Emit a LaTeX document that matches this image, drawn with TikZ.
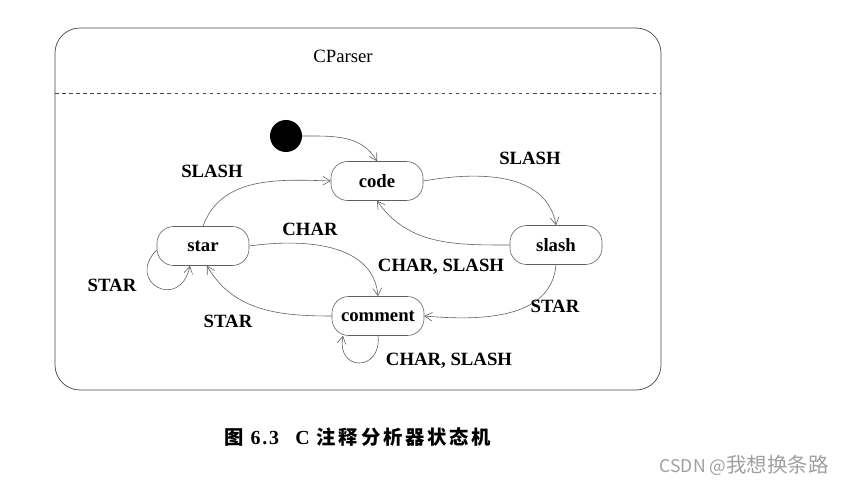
\documentclass[tikz,border=0pt]{standalone}
\usepackage{fontspec}
\setmainfont{Liberation Serif}
\newfontfamily\cjk{Noto Sans CJK SC}
\usepackage{xcolor}
\usetikzlibrary{arrows.meta, positioning, calc}
\definecolor{edgegray}{RGB}{95, 95, 95}
\definecolor{framegray}{RGB}{70, 70, 70}
\definecolor{markgray}{RGB}{160, 160, 160}
\tikzset{
  statebox/.style={
    rectangle, rounded corners=0.5cm, draw=edgegray, line width=0.5pt,
    minimum width=2.76cm, minimum height=1.17cm, inner sep=0pt,
    font=\bfseries\fontsize{16}{19}\selectfont
  },
  initdot/.style={circle, fill=black, minimum size=0.96cm, inner sep=0pt},
  transline/.style={
    draw=edgegray, line width=0.5pt, -{Straight Barb[length=2.2mm, width=2.6mm]}
  },
  translabel/.style={font=\bfseries\fontsize{16}{19}\selectfont},
  framebox/.style={draw=framegray, line width=0.6pt, rounded corners=0.75cm}
}
\newcommand{\capgap}{\hspace{2.4pt}}

\begin{document}
\begin{tikzpicture}[x=0.03cm, y=-0.03cm]
  \useasboundingbox (0,0) rectangle (845,485);

  % Frame of the CParser class
  \draw[framebox] (55,28) rectangle (661,390);
  \draw[draw=framegray, dashed, line width=0.5pt] (55,93) -- (661,93);
  \node[font=\fontsize{16}{19}\selectfont] (title) at (343,56) {CParser};

  % States
  \node[initdot] (init) at (286,136) {};
  \node[statebox] (code) at (377,181) {code};
  \node[statebox] (star) at (203,246) {star};
  \node[statebox] (slash) at (556,245) {slash};
  \node[statebox] (comment) at (378,316) {comment};

  % Transitions
  \draw[transline] (init) to[out=0, in=120] (code.north);
  \draw[transline] (star.north) to[out=70, in=178] (code.west);
  \draw[transline] (code.east) to[out=10, in=100] (slash.north);
  \draw[transline] (slash.west) to[out=180, in=-55] (code.south);
  \draw[transline] (star.east) to[out=8, in=95] (comment.north);
  \draw[transline] (slash.south) to[out=-95, in=-5] (comment.east);
  \draw[transline] (comment.west) to[out=180, in=-60] ($(star.south)+(4,0)$);
  \draw[transline] ($(star.west)+(0,4)$) .. controls (125,282) and (180,312) .. ($(star.south)+(-13,0)$);
  \draw[transline] (comment.south) .. controls (382,372) and (336,372) .. ($(comment.south)+(-35,0)$);

  % Labels
  \node[translabel] (lslashcode) at (212,171) {SLASH};
  \node[translabel] (lcodeslash) at (530,158) {SLASH};
  \node[translabel] (lchar) at (310,229) {CHAR};
  \node[translabel] (lslashback) at (441,267) {CHAR, SLASH};
  \node[translabel] (lstarloop) at (112,285) {STAR};
  \node[translabel] (lcommstar) at (228,321) {STAR};
  \node[translabel] (lslashcomm) at (555,306) {STAR};
  \node[translabel] (lcommloop) at (449,361) {CHAR, SLASH};

  % Caption
  \node[font=\bfseries\fontsize{16.5}{18}\selectfont, anchor=west, inner sep=0pt] (caption) at (224,437)
    {{\cjk 图}\hspace{6pt}{\fontsize{17}{18}\selectfont 6\hspace{1.5pt}.\hspace{1.5pt}3\hspace{14pt}C}\hspace{6pt}%
     {\cjk 注\capgap 释\capgap 分\capgap 析\capgap 器\capgap 状\capgap 态\capgap 机}};
  \node[text=markgray, anchor=east, inner sep=0pt] (mark) at (829,465)
    {\cjk\fontsize{15}{17}\selectfont CSDN @\fontsize{17.5}{17}\selectfont 我想换条路};
\end{tikzpicture}
\end{document}
